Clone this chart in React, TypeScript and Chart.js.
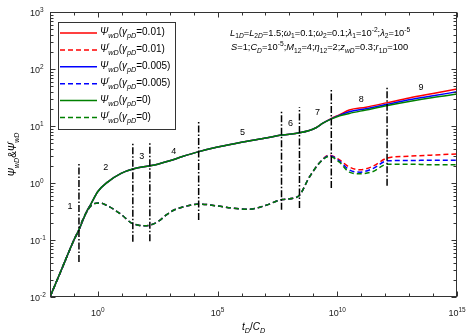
import React, { useEffect, useRef } from 'react';
import { Chart, registerables } from 'chart.js';

Chart.register(...registerables);

// ---------- data ----------
const tSolid = [0.01, 0.0316, 0.1, 0.162, 0.316, 0.525, 1, 2.63, 9.33, 31.6, 148, 316, 1000, 3162, 16600, 1e5, 1.12e6, 1e7, 5e7, 2.63e8, 6.76e8, 1.29e9, 2.51e9, 5.5e9, 1.26e10, 3.16e10, 1.58e11, 1.26e12, 1e13, 1e14, 1e15];
const solidRed = [0.01, 0.0316, 0.1, 0.151, 0.295, 0.437, 0.708, 1.05, 1.48, 1.78, 2.0, 2.14, 2.45, 2.88, 3.55, 4.27, 5.25, 6.17, 6.92, 7.59, 8.32, 9.33, 11.2, 13.5, 15.8, 19.1, 21.4, 25.7, 30.9, 37.2, 44.7];
const solidBlue = [0.01, 0.0316, 0.1, 0.151, 0.295, 0.437, 0.708, 1.05, 1.48, 1.78, 2.0, 2.14, 2.45, 2.88, 3.55, 4.27, 5.25, 6.17, 6.92, 7.59, 8.32, 9.33, 11.2, 13.3, 15.5, 17.8, 20.0, 24.0, 28.8, 33.9, 39.8];
const solidGreen = [0.01, 0.0316, 0.1, 0.151, 0.295, 0.437, 0.708, 1.05, 1.48, 1.78, 2.0, 2.14, 2.45, 2.88, 3.55, 4.27, 5.25, 6.17, 6.92, 7.59, 8.32, 9.33, 11.2, 13.2, 15.1, 16.6, 19.1, 22.9, 26.9, 31.6, 36.3];

const tDashed = [0.01, 0.0316, 0.1, 0.162, 0.24, 0.398, 0.631, 1.17, 2.51, 4.9, 10, 24.5, 50, 87, 148, 316, 724, 1585, 3631, 16600, 89100, 4.37e5, 2.14e6, 1.07e7, 5e7, 2.24e8, 6.76e8, 1.78e9, 4.68e9, 1.2e10, 3.16e10, 8.9e10, 2.95e11, 1.26e12, 1e13, 1e14, 1e15];
const derivRed = [0.01, 0.0316, 0.1, 0.151, 0.234, 0.347, 0.427, 0.447, 0.398, 0.339, 0.275, 0.2, 0.182, 0.178, 0.182, 0.209, 0.275, 0.339, 0.38, 0.427, 0.398, 0.363, 0.347, 0.407, 0.513, 0.575, 1.26, 2.24, 3.09, 2.57, 1.91, 1.70, 1.95, 2.75, 2.95, 3.09, 3.24];
const derivBlue = [0.01, 0.0316, 0.1, 0.151, 0.234, 0.347, 0.427, 0.447, 0.398, 0.339, 0.275, 0.2, 0.182, 0.178, 0.182, 0.209, 0.275, 0.339, 0.38, 0.427, 0.398, 0.363, 0.347, 0.407, 0.513, 0.575, 1.26, 2.24, 3.02, 2.45, 1.70, 1.55, 1.78, 2.45, 2.48, 2.51, 2.51];
const derivGreen = [0.01, 0.0316, 0.1, 0.151, 0.234, 0.347, 0.427, 0.447, 0.398, 0.339, 0.275, 0.2, 0.182, 0.178, 0.182, 0.209, 0.275, 0.339, 0.38, 0.427, 0.398, 0.363, 0.347, 0.407, 0.513, 0.575, 1.26, 2.24, 2.95, 2.34, 1.55, 1.45, 1.58, 2.14, 2.14, 2.09, 2.09];

// flow-regime boundaries (dash-dot vertical lines)
const boundaryT = [0.162, 28.8, 148, 16200, 4.68e7, 2.63e8, 5.62e9, 1.2e12];
const boundaryLow = [0.041, 0.093, 0.095, 0.224, 0.339, 0.363, 0.813, 0.891];
const boundaryHigh = [2.34, 5.01, 5.25, 12.7, 19.1, 21.4, 44.7, 47.9];

// regime numbers
const regimeLabels = ['1', '2', '3', '4', '5', '6', '7', '8', '9'];
const regimeT = [0.068, 2.14, 67.6, 1480, 1.1e6, 1.1e8, 1.48e9, 1e11, 3.16e13];
const regimeY = [0.38, 1.9, 2.88, 3.63, 7.59, 11.0, 17.0, 29.5, 47.9];

// ticks
const xMajorExp = [0, 5, 10, 15];
const xMinorExp = [-2, -1, 1, 2, 3, 4, 6, 7, 8, 9, 11, 12, 13, 14];
const yMajorExp = [-2, -1, 0, 1, 2, 3];

const legendItems = [
  { text: '*Ψ*_{*wD*}(*γ*_{*pD*}=0.01)', color: '#ff0000', dash: [] as number[] },
  { text: "*Ψ*^{'}_{*wD*}(*γ*_{*pD*}=0.01)", color: '#ff0000', dash: [5, 3] },
  { text: '*Ψ*_{*wD*}(*γ*_{*pD*}=0.005)', color: '#0000ff', dash: [] as number[] },
  { text: "*Ψ*^{'}_{*wD*}(*γ*_{*pD*}=0.005)", color: '#0000ff', dash: [5, 3] },
  { text: '*Ψ*_{*wD*}(*γ*_{*pD*}=0)', color: '#008000', dash: [] as number[] },
  { text: "*Ψ*^{'}_{*wD*}(*γ*_{*pD*}=0)", color: '#008000', dash: [5, 3] },
];
const annotation1 = '*L*_{1*D*}=*L*_{2*D*}=1.5;*ω*_{1}=0.1;*ω*_{2}=0.1;*λ*_{1}=10^{-2};*λ*_{2}=10^{-5}';
const annotation2 = '*S*=1;*C*_{*D*}=10^{-5};*M*_{12}=4;*η*_{12}=2;*z*_{*wD*}=0.3;*r*_{1*D*}=100';
const xTitle = '*t*_{*D*}/*C*_{*D*}';
const yTitle = "*Ψ*_{*wD*}&*Ψ*^{'}_{*wD*}";

// ---------- rich text helpers ----------
const FONT = '"Liberation Sans", Arial, Helvetica, sans-serif';
type Seg = { t: string; it: boolean; lvl: number };
function parseRich(s: string): Seg[] {
  const segs: Seg[] = [];
  let it = false;
  let lvl = 0;
  let buf = '';
  const flush = () => {
    if (buf) { segs.push({ t: buf, it, lvl }); buf = ''; }
  };
  for (let i = 0; i < s.length; i++) {
    const c = s[i];
    if (c === '*') { flush(); it = !it; }
    else if ((c === '_' || c === '^') && s[i + 1] === '{') { flush(); lvl = c === '_' ? -1 : 1; i++; }
    else if (c === '}') { flush(); lvl = 0; }
    else buf += c;
  }
  flush();
  return segs;
}
function layoutRich(ctx: CanvasRenderingContext2D, s: string, size: number) {
  const segs = parseRich(s);
  let x = 0;
  let prev = 0;
  let supStart = 0;
  let supEnd = 0;
  const out: { t: string; font: string; x: number; dy: number }[] = [];
  for (const g of segs) {
    const sz = g.lvl === 0 ? size : size * 0.72;
    const font = `${g.it ? 'italic ' : ''}${sz}px ${FONT}`;
    ctx.font = font;
    if (g.lvl === 1 && prev !== 1) supStart = x;
    if (g.lvl === -1 && prev === 1) { supEnd = x; x = supStart; }
    if (g.lvl === 0) { if (supEnd > x) x = supEnd; supEnd = 0; }
    const dy = g.lvl === 1 ? -size * 0.4 : g.lvl === -1 ? size * 0.32 : 0;
    out.push({ t: g.t, font, x, dy });
    x += ctx.measureText(g.t).width;
    prev = g.lvl;
  }
  if (supEnd > x) x = supEnd;
  return { out, width: x };
}
function drawRich(ctx: CanvasRenderingContext2D, s: string, x: number, y: number, size: number, align: 'left' | 'center' | 'right', color = '#000') {
  const { out, width } = layoutRich(ctx, s, size);
  const x0 = align === 'left' ? x : align === 'center' ? x - width / 2 : x - width;
  ctx.fillStyle = color;
  ctx.textAlign = 'left';
  ctx.textBaseline = 'alphabetic';
  for (const o of out) {
    ctx.font = o.font;
    ctx.fillText(o.t, x0 + o.x, y + o.dy);
  }
}

const decorPlugin = {
  id: 'decor',
  afterDraw(chart: any) {
    const ctx: CanvasRenderingContext2D = chart.ctx;
    const { left, right, top, bottom } = chart.chartArea;
    const xs = chart.scales.x;
    const ys = chart.scales.y;
    ctx.save();
    // frame
    ctx.strokeStyle = '#333';
    ctx.lineWidth = 1;
    ctx.setLineDash([]);
    const L = Math.round(left) + 0.5, R = Math.round(right) - 0.5, T = Math.round(top) + 0.5, B = Math.round(bottom) - 0.5;
    ctx.strokeRect(L, T, R - L, B - T);
    const line = (x1: number, y1: number, x2: number, y2: number) => {
      ctx.beginPath(); ctx.moveTo(x1, y1); ctx.lineTo(x2, y2); ctx.stroke();
    };
    // x ticks
    const xTick = (e: number, len: number) => {
      const px = Math.round(xs.getPixelForValue(Math.pow(10, e))) + 0.5;
      line(px, B, px, B - len);
      line(px, T, px, T + len);
    };
    xMinorExp.forEach((e) => xTick(e, 3));
    xMajorExp.forEach((e) => xTick(e, 5));
    // y ticks
    for (let e = -2; e <= 3; e++) {
      for (let m = 1; m <= 9; m++) {
        if (e === 3 && m > 1) break;
        const py = Math.round(ys.getPixelForValue(m * Math.pow(10, e))) + 0.5;
        const len = m === 1 ? 5 : 3;
        line(L, py, L + len, py);
        line(R, py, R - len, py);
      }
    }
    // tick labels
    xMajorExp.forEach((e) => {
      drawRich(ctx, `10^{${e}}`, xs.getPixelForValue(Math.pow(10, e)), 316, 9, 'center', '#222');
    });
    yMajorExp.forEach((e) => {
      drawRich(ctx, `10^{${e}}`, 30, ys.getPixelForValue(Math.pow(10, e)) + 3.5, 9, 'left', '#222');
    });
    // axis titles
    drawRich(ctx, xTitle, (left + right) / 2, 330, 10, 'center');
    ctx.save();
    ctx.translate(16, (top + bottom) / 2);
    ctx.rotate(-Math.PI / 2);
    drawRich(ctx, yTitle, 0, 0, 10, 'center');
    ctx.restore();
    // regime numbers
    regimeLabels.forEach((lab, i) => {
      ctx.font = `9px ${FONT}`;
      ctx.fillStyle = '#000';
      ctx.textAlign = 'center';
      ctx.textBaseline = 'middle';
      ctx.fillText(lab, xs.getPixelForValue(regimeT[i]), ys.getPixelForValue(regimeY[i]));
    });
    // annotations
    drawRich(ctx, annotation1, 230, 35.5, 9.3, 'left');
    drawRich(ctx, annotation2, 231, 50, 9.3, 'left');
    // legend
    ctx.fillStyle = '#fff';
    ctx.fillRect(58, 22, 117, 108);
    ctx.strokeStyle = '#333';
    ctx.lineWidth = 1;
    ctx.strokeRect(58.5, 22.5, 117, 107);
    legendItems.forEach((it, i) => {
      const cy = 33 + i * 16.9;
      ctx.strokeStyle = it.color;
      ctx.lineWidth = 1.5;
      ctx.setLineDash(it.dash);
      line(60, cy, 97, cy);
      ctx.setLineDash([]);
      drawRich(ctx, it.text, 100, cy + 2, 10, 'left');
    });
    ctx.restore();
  },
};

export default function App() {
  const ref = useRef<HTMLCanvasElement>(null);
  useEffect(() => {
    const canvas = ref.current;
    if (!canvas) return;
    const series = (label: string, xs: number[], ys: number[], color: string, dash: number[]) => ({
      label,
      data: xs.map((x, i) => ({ x, y: ys[i] })),
      borderColor: color,
      backgroundColor: color,
      borderWidth: 1.5,
      borderDash: dash,
      pointRadius: 0,
      fill: false,
      cubicInterpolationMode: 'monotone' as const,
    });
    const boundaries = boundaryT.map((t, i) => ({
      label: `boundary${i}`,
      data: [{ x: t, y: boundaryLow[i] }, { x: t, y: boundaryHigh[i] }],
      borderColor: '#000',
      borderWidth: 1.5,
      borderDash: [7, 2, 1.5, 2],
      pointRadius: 0,
      fill: false,
    }));
    const dashed = [5, 3];
    const datasets: any[] = [
      ...boundaries,
      series('dPsi gamma=0', tDashed, derivGreen, '#008000', dashed),
      series('dPsi gamma=0.005', tDashed, derivBlue, '#0000ff', dashed),
      series('dPsi gamma=0.01', tDashed, derivRed, '#ff0000', dashed),
      series('Psi gamma=0', tSolid, solidGreen, '#008000', []),
      series('Psi gamma=0.005', tSolid, solidBlue, '#0000ff', []),
      series('Psi gamma=0.01', tSolid, solidRed, '#ff0000', []),
    ];
    const chart = new Chart(canvas, {
      type: 'line',
      data: { datasets },
      options: {
        animation: false,
        responsive: false,
        devicePixelRatio: 1,
        layout: { padding: { left: 50, top: 12, right: 17, bottom: 38 } },
        plugins: { legend: { display: false }, tooltip: { enabled: false } },
        scales: {
          x: { type: 'logarithmic', min: 0.01, max: 1e15, display: false },
          y: { type: 'logarithmic', min: 0.01, max: 1000, display: false },
        },
      },
      plugins: [decorPlugin],
    });
    return () => chart.destroy();
  }, []);
  return (
    <div style={{ position: 'fixed', left: 0, top: 0, width: 474, height: 335, background: '#fff' }}>
      <canvas ref={ref} width={474} height={335} style={{ display: 'block' }} />
    </div>
  );
}
